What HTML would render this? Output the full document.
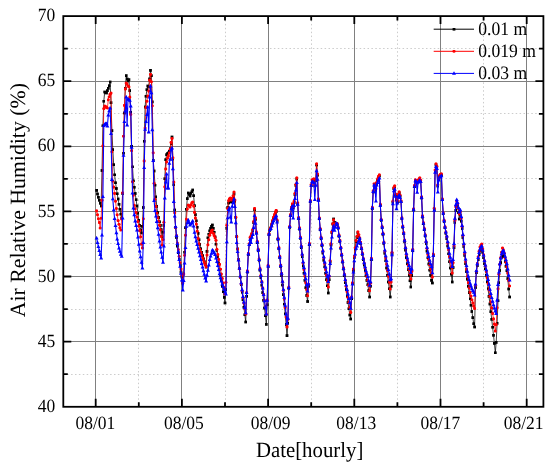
<!DOCTYPE html>
<html lang="en"><head><meta charset="utf-8"><title>Air Relative Humidity</title>
<style>html,body{margin:0;padding:0;background:#fff;overflow:hidden}svg{display:block}</style></head>
<body>
<svg width="550" height="466" viewBox="0 0 550 466" style="display:block">
<defs><marker id="mk" markerWidth="3.2" markerHeight="3.2" refX="1.6" refY="1.6" markerUnits="userSpaceOnUse"><rect x="0.2" y="0.2" width="2.8" height="2.8" fill="#000"/></marker><marker id="mr" markerWidth="3.6" markerHeight="3.6" refX="1.8" refY="1.8" markerUnits="userSpaceOnUse"><circle cx="1.8" cy="1.8" r="1.55" fill="#f00"/></marker><marker id="mu" markerWidth="4.4" markerHeight="4.4" refX="2.2" refY="2.5" markerUnits="userSpaceOnUse"><path d="M2.2 0.3 L4.2 3.9 L0.2 3.9 Z" fill="#00f"/></marker></defs>
<rect x="0" y="0" width="550" height="466" fill="#fff"/>
<path d="M63.3 374.5H543.4M63.3 309.5H543.4M63.3 243.5H543.4M63.3 178.5H543.4M63.3 113.5H543.4M63.3 48.5H543.4M138.5 16.1V406.8M225.5 16.1V406.8M311.5 16.1V406.8M397.5 16.1V406.8M483.5 16.1V406.8" stroke="#cccccc" stroke-width="1" stroke-dasharray="1.5 2.4" fill="none"/>
<path d="M63.3 341.5H543.4M63.3 276.5H543.4M63.3 211.5H543.4M63.3 146.5H543.4M63.3 81.5H543.4M95.5 16.1V406.8M181.5 16.1V406.8M268.5 16.1V406.8M354.5 16.1V406.8M440.5 16.1V406.8M526.5 16.1V406.8" stroke="#808080" stroke-width="1" fill="none"/>
<polyline points="96.6,190.4 97.5,194.0 98.4,197.3 99.3,200.3 100.2,203.3 101.1,206.0 102.0,170.5 102.9,125.8 103.8,101.2 104.7,92.0 105.6,92.4 106.5,93.0 107.4,90.6 108.3,88.3 109.2,85.7 110.1,82.0 111.0,102.7 111.9,130.6 112.8,149.6 113.7,164.7 114.6,174.9 115.5,182.8 116.4,188.5 117.2,193.8 118.1,199.0 119.0,204.3 119.9,209.2 120.8,214.1 121.7,218.0 122.6,193.4 123.5,153.2 124.4,113.0 125.3,88.4 126.2,75.6 127.1,78.9 128.0,81.0 128.9,79.6 129.8,90.6 130.7,112.4 131.6,146.4 132.5,166.9 133.4,180.9 134.3,187.2 135.2,193.5 136.1,199.7 137.0,206.0 137.9,213.2 138.8,220.4 139.7,225.5 140.6,230.0 141.5,233.0 142.4,226.3 143.3,207.5 144.2,141.2 145.1,107.0 146.0,96.2 146.9,89.7 147.8,86.0 148.7,87.0 149.6,78.9 150.5,70.4 151.4,75.7 152.3,101.9 153.2,160.2 154.1,171.0 155.0,185.1 155.9,196.9 156.8,206.4 157.7,212.6 158.6,217.5 159.5,221.8 160.4,225.4 161.2,229.6 162.1,237.0 163.0,232.2 163.9,225.4 164.8,178.8 165.7,159.7 166.6,154.7 167.5,153.6 168.4,152.9 169.3,151.3 170.2,148.7 171.1,143.6 172.0,137.0 172.9,159.0 173.8,184.8 174.7,210.0 175.6,227.4 176.5,237.5 177.4,246.1 178.3,252.8 179.2,259.4 180.1,265.7 181.0,272.0 181.9,277.0 182.8,283.0 183.7,274.0 184.6,252.2 185.5,227.7 186.4,209.2 187.3,198.6 188.2,193.0 189.1,194.3 190.0,196.0 190.9,193.4 191.8,191.8 192.7,190.0 193.6,195.7 194.5,205.7 195.4,214.6 196.3,220.9 197.2,227.2 198.1,233.4 199.0,239.7 199.9,244.3 200.8,248.8 201.7,252.4 202.6,255.6 203.4,258.8 204.3,261.7 205.2,264.6 206.1,267.0 207.0,251.4 207.9,237.9 208.8,234.1 209.7,230.9 210.6,228.4 211.5,226.2 212.4,225.0 213.3,228.3 214.2,232.1 215.1,237.0 216.0,244.1 216.9,250.4 217.8,256.7 218.7,263.0 219.6,269.3 220.5,275.2 221.4,280.7 222.3,286.3 223.2,291.9 224.1,297.4 225.0,303.0 225.9,289.5 226.8,228.4 227.7,207.5 228.6,203.0 229.5,201.7 230.4,201.0 231.3,202.0 232.2,200.3 233.1,197.8 234.0,194.0 234.9,201.2 235.8,217.3 236.7,236.6 237.6,249.0 238.5,259.7 239.4,268.7 240.3,277.2 241.2,284.7 242.1,292.2 243.0,299.7 243.9,307.2 244.8,314.8 245.7,322.0 246.6,296.3 247.4,272.1 248.3,254.6 249.2,244.9 250.1,238.7 251.0,237.1 251.9,234.6 252.8,230.7 253.7,222.7 254.6,209.6 255.5,219.3 256.4,233.1 257.3,242.6 258.2,250.5 259.1,260.3 260.0,270.2 260.9,277.6 261.8,285.1 262.7,292.6 263.6,300.3 264.5,308.0 265.4,315.8 266.3,324.4 267.2,304.8 268.1,266.7 269.0,234.8 269.9,230.4 270.8,228.4 271.7,225.0 272.6,221.4 273.5,218.4 274.4,215.8 275.3,213.3 276.2,211.6 277.1,221.2 278.0,239.4 278.9,248.8 279.8,257.7 280.7,266.7 281.6,275.7 282.5,285.0 283.4,294.6 284.3,304.1 285.2,313.9 286.1,324.5 287.0,335.6 287.9,323.1 288.8,288.3 289.7,227.4 290.5,215.8 291.4,208.4 292.3,205.0 293.2,208.0 294.1,202.6 295.0,194.7 295.9,185.4 296.8,179.0 297.7,204.0 298.6,218.7 299.5,229.1 300.4,238.3 301.3,247.6 302.2,256.9 303.1,266.0 304.0,273.1 304.9,280.3 305.8,287.7 306.7,295.5 307.6,301.5 308.5,286.3 309.4,244.7 310.3,201.7 311.2,185.8 312.1,180.9 313.0,180.4 313.9,180.0 314.8,186.0 315.7,180.5 316.6,165.0 317.5,175.2 318.4,200.1 319.3,218.9 320.2,229.8 321.1,238.6 322.0,245.8 322.9,253.0 323.8,260.2 324.7,266.8 325.6,273.3 326.5,279.7 327.4,285.9 328.3,293.0 329.2,279.7 330.1,262.0 331.0,245.0 331.9,232.8 332.8,224.0 333.6,219.0 334.5,222.4 335.4,224.0 336.3,224.0 337.2,224.7 338.1,228.2 339.0,236.2 339.9,241.6 340.8,248.4 341.7,255.3 342.6,262.1 343.5,269.0 344.4,275.9 345.3,282.8 346.2,289.6 347.1,296.0 348.0,302.5 348.9,308.8 349.8,315.0 350.7,319.0 351.6,298.6 352.5,283.9 353.4,270.3 354.3,257.4 355.2,249.0 356.1,241.6 357.0,237.5 357.9,233.0 358.8,235.8 359.7,238.9 360.6,243.5 361.5,248.9 362.4,254.3 363.3,259.7 364.2,265.1 365.1,270.4 366.0,275.8 366.9,280.4 367.8,284.8 368.7,290.6 369.6,297.0 370.5,286.2 371.4,259.6 372.3,208.6 373.2,192.1 374.1,185.0 375.0,187.3 375.9,190.0 376.7,183.4 377.6,180.1 378.5,177.4 379.4,176.0 380.3,205.3 381.2,220.4 382.1,227.8 383.0,234.4 383.9,243.8 384.8,253.2 385.7,260.8 386.6,268.0 387.5,275.2 388.4,282.0 389.3,288.8 390.2,297.0 391.1,286.3 392.0,253.7 392.9,202.2 393.8,188.8 394.7,187.0 395.6,195.3 396.5,200.0 397.4,202.0 398.3,195.4 399.2,193.0 400.1,196.2 401.0,201.9 401.9,218.9 402.8,227.3 403.7,233.8 404.6,241.5 405.5,250.1 406.4,257.6 407.3,263.7 408.2,269.8 409.1,275.4 410.0,280.8 410.9,287.0 411.8,275.5 412.7,250.7 413.6,210.0 414.5,186.7 415.4,181.0 416.3,181.9 417.2,183.0 418.1,181.5 418.9,180.3 419.8,179.0 420.7,181.2 421.6,198.0 422.5,217.1 423.4,223.8 424.3,229.7 425.2,236.0 426.1,243.5 427.0,251.1 427.9,257.9 428.8,264.0 429.7,270.1 430.6,275.4 431.5,280.4 432.4,283.0 433.3,255.3 434.2,209.6 435.1,171.2 436.0,165.0 436.9,167.7 437.8,186.0 438.7,179.7 439.6,176.4 440.5,175.5 441.4,175.0 442.3,199.9 443.2,213.9 444.1,221.5 445.0,227.9 445.9,233.3 446.8,238.7 447.7,246.0 448.6,253.9 449.5,261.8 450.4,268.0 451.3,274.2 452.2,282.0 453.1,267.5 454.0,247.7 454.9,222.4 455.8,210.4 456.7,206.8 457.6,205.0 458.5,212.7 459.4,219.0 460.3,215.0 461.2,221.2 462.1,228.5 462.9,237.5 463.8,246.5 464.7,255.4 465.6,263.8 466.5,271.6 467.4,279.2 468.3,286.3 469.2,292.6 470.1,298.9 471.0,305.2 471.9,311.5 472.8,317.6 473.7,323.7 474.6,327.0 475.5,287.5 476.4,272.7 477.3,265.8 478.2,259.7 479.1,254.6 480.0,251.0 480.9,249.7 481.8,249.0 482.7,252.3 483.6,257.8 484.5,263.8 485.4,268.9 486.3,275.2 487.2,281.9 488.1,288.8 489.0,296.4 489.9,304.0 490.8,311.7 491.7,319.3 492.6,327.2 493.5,335.3 494.4,343.4 495.3,352.8 496.2,342.4 497.1,323.3 498.0,300.8 498.9,282.7 499.8,270.5 500.7,262.6 501.6,257.3 502.5,254.6 503.4,253.0 504.3,256.5 505.1,261.5 506.0,266.2 506.9,270.7 507.8,278.6 508.7,289.0 509.6,297.0" fill="none" stroke="#000" stroke-width="0.75" stroke-linejoin="round" marker-start="url(#mk)" marker-mid="url(#mk)" marker-end="url(#mk)"/>
<polyline points="96.6,210.9 97.5,214.8 98.4,218.7 99.3,222.5 100.2,228.0 101.1,218.2 102.0,200.3 102.9,145.7 103.8,108.6 104.7,106.0 105.6,106.6 106.5,107.5 107.4,108.0 108.3,99.8 109.2,96.7 110.1,94.3 111.0,93.0 111.9,151.8 112.8,181.1 113.7,187.1 114.6,193.4 115.5,201.2 116.4,208.5 117.2,214.8 118.1,220.6 119.0,224.2 119.9,227.8 120.8,230.0 121.7,218.9 122.6,192.7 123.5,136.3 124.4,105.4 125.3,88.9 126.2,83.0 127.1,84.1 128.0,86.0 128.9,86.8 129.8,97.1 130.7,114.4 131.6,150.6 132.5,181.7 133.4,195.2 134.3,205.2 135.2,208.8 136.1,212.5 137.0,217.0 137.9,221.5 138.8,226.0 139.7,230.5 140.6,236.8 141.5,244.0 142.4,248.0 143.3,218.7 144.2,160.9 145.1,128.0 146.0,107.4 146.9,101.3 147.8,96.1 148.7,91.1 149.6,80.3 150.5,74.4 151.4,81.8 152.3,105.7 153.2,152.8 154.1,183.2 155.0,199.3 155.9,206.5 156.8,213.2 157.7,217.6 158.6,221.2 159.5,225.3 160.4,229.8 161.2,236.4 162.1,245.0 163.0,239.6 163.9,222.2 164.8,186.7 165.7,168.9 166.6,161.9 167.5,158.3 168.4,155.9 169.3,153.0 170.2,149.2 171.1,142.4 172.0,138.5 172.9,157.7 173.8,182.0 174.7,212.8 175.6,227.5 176.5,235.6 177.4,243.0 178.3,249.6 179.2,256.2 180.1,262.7 181.0,269.0 181.9,275.3 182.8,283.0 183.7,274.0 184.6,255.2 185.5,235.2 186.4,219.2 187.3,209.0 188.2,205.0 189.1,205.9 190.0,207.0 190.9,204.8 191.8,202.9 192.7,202.0 193.6,206.1 194.5,212.4 195.4,218.1 196.3,224.1 197.2,231.3 198.1,238.4 199.0,243.8 199.9,249.2 200.8,252.3 201.7,255.0 202.6,257.7 203.4,260.2 204.3,262.6 205.2,265.0 206.1,267.0 207.0,255.0 207.9,244.7 208.8,239.8 209.7,235.3 210.6,232.7 211.5,230.9 212.4,230.0 213.3,233.3 214.2,235.6 215.1,237.8 216.0,240.2 216.9,249.2 217.8,254.5 218.7,259.4 219.6,264.4 220.5,269.3 221.4,274.0 222.3,278.5 223.2,283.0 224.1,287.5 225.0,294.0 225.9,282.2 226.8,225.3 227.7,208.6 228.6,200.6 229.5,198.7 230.4,198.0 231.3,200.0 232.2,198.3 233.1,195.8 234.0,192.0 234.9,200.0 235.8,217.3 236.7,236.6 237.6,249.0 238.5,259.7 239.4,268.7 240.3,277.0 241.2,283.9 242.1,290.8 243.0,297.7 243.9,303.1 244.8,308.5 245.7,313.9 246.6,292.6 247.4,270.9 248.3,253.4 249.2,243.7 250.1,237.5 251.0,235.9 251.9,233.4 252.8,229.5 253.7,221.5 254.6,208.4 255.5,218.1 256.4,231.9 257.3,241.4 258.2,249.3 259.1,259.1 260.0,268.6 260.9,275.2 261.8,281.6 262.7,287.9 263.6,294.2 264.5,300.6 265.4,306.9 266.3,314.0 267.2,300.0 268.1,265.5 269.0,233.6 269.9,229.2 270.8,227.2 271.7,223.8 272.6,220.2 273.5,217.2 274.4,214.6 275.3,212.1 276.2,210.4 277.1,220.0 278.0,238.2 278.9,247.6 279.8,256.5 280.7,265.1 281.6,273.4 282.5,281.8 283.4,290.4 284.3,298.9 285.2,307.6 286.1,317.0 287.0,326.9 287.9,319.3 288.8,287.1 289.7,226.2 290.5,214.6 291.4,207.2 292.3,203.8 293.2,206.8 294.1,201.4 295.0,193.5 295.9,184.2 296.8,177.8 297.7,202.8 298.6,217.5 299.5,227.9 300.4,237.1 301.3,246.0 302.2,254.8 303.1,263.1 304.0,269.6 304.9,276.0 305.8,282.6 306.7,289.5 307.6,295.7 308.5,284.3 309.4,243.5 310.3,200.5 311.2,184.6 312.1,179.7 313.0,179.2 313.9,178.8 314.8,184.8 315.7,179.3 316.6,163.8 317.5,174.0 318.4,198.9 319.3,217.7 320.2,228.6 321.1,237.4 322.0,244.4 322.9,251.1 323.8,257.7 324.7,263.8 325.6,269.5 326.5,275.3 327.4,280.6 328.3,286.9 329.2,276.4 330.1,260.8 331.0,243.8 331.9,231.6 332.8,223.7 333.6,219.8 334.5,224.1 335.4,224.7 336.3,223.6 337.2,223.5 338.1,227.0 339.0,235.0 339.9,240.4 340.8,247.2 341.7,254.1 342.6,260.9 343.5,267.8 344.4,274.1 345.3,280.3 346.2,286.2 347.1,291.8 348.0,297.2 348.9,302.5 349.8,307.5 350.7,312.5 351.6,296.9 352.5,282.7 353.4,269.1 354.3,256.2 355.2,247.8 356.1,240.4 357.0,236.3 357.9,231.8 358.8,234.6 359.7,237.7 360.6,242.3 361.5,247.7 362.4,253.1 363.3,258.2 364.2,263.1 365.1,268.0 366.0,272.7 366.9,276.5 367.8,280.3 368.7,285.2 369.6,290.8 370.5,283.3 371.4,258.4 372.3,207.4 373.2,190.9 374.1,183.8 375.0,186.1 375.9,188.8 376.7,182.2 377.6,178.9 378.5,176.2 379.4,174.8 380.3,204.1 381.2,219.2 382.1,226.6 383.0,233.2 383.9,242.3 384.8,251.1 385.7,257.9 386.6,264.2 387.5,270.5 388.4,276.2 389.3,282.0 390.2,289.0 391.1,281.9 392.0,252.5 392.9,201.0 393.8,187.6 394.7,185.8 395.6,194.1 396.5,198.8 397.4,200.8 398.3,194.2 399.2,191.8 400.1,195.0 401.0,200.7 401.9,217.7 402.8,226.1 403.7,232.6 404.6,240.1 405.5,247.9 406.4,254.7 407.3,259.9 408.2,265.0 409.1,269.6 410.0,273.9 410.9,279.0 411.8,271.4 412.7,249.5 413.6,208.8 414.5,185.5 415.4,179.8 416.3,180.7 417.2,181.8 418.1,180.3 418.9,179.1 419.8,177.8 420.7,180.0 421.6,196.8 422.5,215.9 423.4,222.6 424.3,228.5 425.2,234.7 426.1,241.7 427.0,248.5 427.9,254.5 428.8,259.6 429.7,264.7 430.6,269.0 431.5,272.8 432.4,277.1 433.3,254.1 434.2,208.4 435.1,170.0 436.0,163.8 436.9,166.5 437.8,184.8 438.7,178.5 439.6,175.2 440.5,174.3 441.4,173.8 442.3,198.7 443.2,212.7 444.1,220.3 445.0,226.7 445.9,231.9 446.8,236.5 447.7,242.9 448.6,249.8 449.5,256.7 450.4,261.7 451.3,266.7 452.2,273.1 453.1,262.8 454.0,245.7 454.9,220.4 455.8,206.8 456.7,201.0 457.6,203.8 458.5,208.6 459.4,214.0 460.3,212.0 461.2,218.4 462.1,226.5 462.9,235.5 463.8,244.5 464.7,253.4 465.6,261.8 466.5,269.3 467.4,276.5 468.3,282.8 469.2,287.8 470.1,292.5 471.0,296.1 471.9,299.7 472.8,302.9 473.7,306.1 474.6,308.5 475.5,285.2 476.4,271.2 477.3,263.5 478.2,256.7 479.1,251.4 480.0,247.0 480.9,245.1 481.8,244.0 482.7,248.9 483.6,254.8 484.5,260.8 485.4,265.9 486.3,271.6 487.2,277.6 488.1,283.6 489.0,289.9 489.9,296.2 490.8,302.1 491.7,307.9 492.6,313.5 493.5,318.9 494.4,324.1 495.3,331.0 496.2,324.6 497.1,307.8 498.0,288.7 498.9,274.2 499.8,264.4 500.7,257.6 501.6,252.3 502.5,248.0 503.4,249.9 504.3,253.3 505.1,257.7 506.0,262.2 506.9,266.7 507.8,272.9 508.7,280.4 509.6,286.0" fill="none" stroke="#f00" stroke-width="0.75" stroke-linejoin="round" marker-start="url(#mr)" marker-mid="url(#mr)" marker-end="url(#mr)"/>
<polyline points="96.6,238.0 97.5,242.5 98.4,246.7 99.3,250.6 100.2,254.5 101.1,258.0 102.0,235.1 102.9,196.6 103.8,125.7 104.7,124.5 105.6,123.8 106.5,123.6 107.4,126.0 108.3,115.1 109.2,110.9 110.1,108.0 111.0,133.5 111.9,179.5 112.8,198.9 113.7,209.9 114.6,218.5 115.5,225.6 116.4,232.8 117.2,239.2 118.1,243.7 119.0,248.2 119.9,251.3 120.8,254.4 121.7,256.4 122.6,218.1 123.5,155.4 124.4,121.6 125.3,111.1 126.2,97.0 127.1,125.0 128.0,99.0 128.9,99.7 129.8,100.4 130.7,106.0 131.6,147.3 132.5,193.0 133.4,208.1 134.3,214.8 135.2,221.0 136.1,225.5 137.0,230.0 137.9,237.2 138.8,244.4 139.7,251.2 140.6,256.8 141.5,262.4 142.4,268.0 143.3,242.5 144.2,167.7 145.1,129.3 146.0,121.6 146.9,114.7 147.8,107.0 148.7,132.0 149.6,97.0 150.5,86.0 151.4,92.9 152.3,129.8 153.2,160.5 154.1,200.7 155.0,210.6 155.9,216.2 156.8,221.5 157.7,227.8 158.6,234.4 159.5,241.0 160.4,247.0 161.2,252.2 162.1,257.4 163.0,262.4 163.9,246.0 164.8,198.0 165.7,182.1 166.6,174.0 167.5,188.0 168.4,188.0 169.3,163.3 170.2,159.3 171.1,149.8 172.0,148.0 172.9,168.8 173.8,201.5 174.7,216.2 175.6,226.6 176.5,235.6 177.4,243.7 178.3,251.8 179.2,259.6 180.1,266.4 181.0,273.3 181.9,280.1 182.8,290.0 183.7,280.7 184.6,263.1 185.5,247.6 186.4,226.4 187.3,222.8 188.2,220.0 189.1,222.7 190.0,225.0 190.9,223.9 191.8,222.7 192.7,221.0 193.6,226.2 194.5,232.4 195.4,236.8 196.3,241.1 197.2,244.7 198.1,248.3 199.0,252.1 199.9,255.9 200.8,259.7 201.7,263.5 202.6,267.2 203.4,270.8 204.3,274.4 205.2,278.0 206.1,281.0 207.0,275.3 207.9,270.3 208.8,265.0 209.7,259.6 210.6,256.1 211.5,253.3 212.4,250.0 213.3,251.2 214.2,252.7 215.1,254.5 216.0,258.1 216.9,261.7 217.8,265.7 218.7,269.7 219.6,273.8 220.5,277.8 221.4,281.2 222.3,284.0 223.2,286.7 224.1,289.4 225.0,292.2 225.9,294.0 226.8,241.9 227.7,217.9 228.6,209.5 229.5,208.0 230.4,217.1 231.3,222.0 232.2,206.4 233.1,202.8 234.0,199.0 234.9,206.6 235.8,222.8 236.7,242.7 237.6,251.7 238.5,260.0 239.4,268.2 240.3,276.0 241.2,282.9 242.1,289.8 243.0,296.7 243.9,302.1 244.8,307.5 245.7,312.9 246.6,292.7 247.4,271.4 248.3,253.9 249.2,244.5 250.1,239.4 251.0,242.7 251.9,237.3 252.8,234.5 253.7,227.5 254.6,215.5 255.5,223.3 256.4,233.2 257.3,241.9 258.2,249.8 259.1,259.6 260.0,269.0 260.9,275.6 261.8,281.9 262.7,288.2 263.6,294.5 264.5,300.8 265.4,307.0 266.3,314.0 267.2,300.3 268.1,266.0 269.0,234.1 269.9,229.7 270.8,228.5 271.7,225.9 272.6,223.0 273.5,220.9 274.4,219.1 275.3,217.5 276.2,215.8 277.1,222.2 278.0,238.7 278.9,248.1 279.8,257.0 280.7,265.5 281.6,273.3 282.5,281.3 283.4,289.4 284.3,297.3 285.2,305.4 286.1,314.2 287.0,323.4 287.9,318.4 288.8,287.6 289.7,226.7 290.5,215.3 291.4,208.8 292.3,206.2 293.2,218.1 294.1,205.6 295.0,198.6 295.9,190.2 296.8,182.7 297.7,204.3 298.6,218.0 299.5,228.4 300.4,237.6 301.3,246.1 302.2,254.2 303.1,261.9 304.0,267.6 304.9,273.1 305.8,278.8 306.7,284.8 307.6,291.1 308.5,283.9 309.4,244.0 310.3,201.0 311.2,185.3 312.1,181.5 313.0,182.0 313.9,182.7 314.8,199.7 315.7,185.3 316.6,170.8 317.5,179.4 318.4,200.3 319.3,218.2 320.2,229.1 321.1,237.9 322.0,244.7 322.9,250.8 323.8,256.8 324.7,262.0 325.6,267.0 326.5,271.8 327.4,276.3 328.3,281.6 329.2,275.4 330.1,263.6 331.0,248.0 331.9,237.2 332.8,229.6 333.6,226.0 334.5,230.4 335.4,227.0 336.3,223.3 337.2,224.0 338.1,227.5 339.0,235.5 339.9,240.9 340.8,247.7 341.7,254.6 342.6,261.4 343.5,268.3 344.4,274.1 345.3,279.7 346.2,284.9 347.1,289.6 348.0,294.2 348.9,298.6 349.8,302.7 350.7,308.4 351.6,297.0 352.5,284.2 353.4,272.1 354.3,260.9 355.2,254.2 356.1,248.4 357.0,246.0 357.9,243.1 358.8,240.6 359.7,238.2 360.6,242.8 361.5,248.2 362.4,253.6 363.3,258.4 364.2,262.8 365.1,266.9 366.0,270.9 366.9,273.9 367.8,276.7 368.7,280.8 369.6,285.4 370.5,281.8 371.4,258.9 372.3,207.9 373.2,191.5 374.1,185.0 375.0,187.9 375.9,201.2 376.7,185.2 377.6,182.5 378.5,180.4 379.4,178.2 380.3,205.3 381.2,219.7 382.1,227.1 383.0,233.7 383.9,242.4 384.8,250.2 385.7,255.8 386.6,260.7 387.5,265.4 388.4,269.6 389.3,274.1 390.2,279.8 391.1,278.8 392.0,254.8 392.9,203.8 393.8,190.9 394.7,189.3 395.6,196.3 396.5,208.8 397.4,203.2 398.3,197.1 399.2,195.1 400.1,197.5 401.0,201.6 401.9,218.2 402.8,226.6 403.7,233.1 404.6,240.3 405.5,247.5 406.4,253.4 407.3,257.8 408.2,261.9 409.1,265.5 410.0,268.7 410.9,272.6 411.8,269.1 412.7,250.0 413.6,209.3 414.5,186.2 415.4,180.8 416.3,182.0 417.2,192.4 418.1,182.1 418.9,181.3 419.8,180.2 420.7,181.6 421.6,197.3 422.5,216.4 423.4,223.1 424.3,229.0 425.2,235.1 426.1,241.4 427.0,247.4 427.9,252.4 428.8,256.5 429.7,260.4 430.6,263.7 431.5,266.5 432.4,272.9 433.3,255.7 434.2,210.3 435.1,172.3 436.0,166.6 436.9,168.5 437.8,192.2 438.7,180.2 439.6,177.2 440.5,176.6 441.4,175.8 442.3,199.6 443.2,213.2 444.1,220.8 445.0,227.2 445.9,232.1 446.8,236.1 447.7,241.7 448.6,247.7 449.5,253.4 450.4,257.4 451.3,261.2 452.2,266.5 453.1,259.7 454.0,243.7 454.9,218.4 455.8,204.8 456.7,199.6 457.6,202.6 458.5,207.5 459.4,212.0 460.3,210.0 461.2,216.5 462.1,225.5 462.9,234.5 463.8,243.5 464.7,251.7 465.6,259.1 466.5,265.5 467.4,271.3 468.3,276.3 469.2,279.9 470.1,283.4 471.0,286.1 471.9,288.8 472.8,290.6 473.7,292.4 474.6,295.0 475.5,284.1 476.4,270.7 477.3,263.8 478.2,257.7 479.1,252.6 480.0,249.0 480.9,247.1 481.8,246.0 482.7,250.1 483.6,255.2 484.5,260.5 485.4,265.0 486.3,269.8 487.2,274.6 488.1,279.5 489.0,284.4 489.9,289.4 490.8,293.5 491.7,297.6 492.6,301.3 493.5,304.9 494.4,308.2 495.3,311.1 496.2,313.5 497.1,300.0 498.0,284.5 498.9,272.2 499.8,263.8 500.7,258.0 501.6,253.8 502.5,251.3 503.4,250.4 504.3,252.9 505.1,256.3 506.0,259.9 506.9,263.8 507.8,269.1 508.7,275.3 509.6,280.0" fill="none" stroke="#00f" stroke-width="1.1" stroke-linejoin="round" marker-start="url(#mu)" marker-mid="url(#mu)" marker-end="url(#mu)"/>
<rect x="63.3" y="16.1" width="480.1" height="390.7" fill="none" stroke="#000" stroke-width="1.8"/>
<path d="M63.3 341.6h8M543.4 341.6h-8M63.3 276.5h8M543.4 276.5h-8M63.3 211.4h8M543.4 211.4h-8M63.3 146.3h8M543.4 146.3h-8M63.3 81.2h8M543.4 81.2h-8M63.3 374.1h4.5M543.4 374.1h-4.5M63.3 309.1h4.5M543.4 309.1h-4.5M63.3 243.9h4.5M543.4 243.9h-4.5M63.3 178.8h4.5M543.4 178.8h-4.5M63.3 113.8h4.5M543.4 113.8h-4.5M63.3 48.6h4.5M543.4 48.6h-4.5M95.7 406.8v-8M95.7 16.1v8M181.9 406.8v-8M181.9 16.1v8M268.1 406.8v-8M268.1 16.1v8M354.3 406.8v-8M354.3 16.1v8M440.5 406.8v-8M440.5 16.1v8M526.7 406.8v-8M526.7 16.1v8M138.8 406.8v-4.5M138.8 16.1v4.5M225.0 406.8v-4.5M225.0 16.1v4.5M311.2 406.8v-4.5M311.2 16.1v4.5M397.4 406.8v-4.5M397.4 16.1v4.5M483.6 406.8v-4.5M483.6 16.1v4.5" stroke="#000" stroke-width="1.8" fill="none"/>
<g font-family="'Liberation Serif', serif" fill="#000" text-rendering="geometricPrecision">
<text transform="translate(55.3,412.2) scale(1,1.070)" font-size="17.5" text-anchor="end">40</text>
<text transform="translate(55.3,347.0) scale(1,1.070)" font-size="17.5" text-anchor="end">45</text>
<text transform="translate(55.3,281.7) scale(1,1.070)" font-size="17.5" text-anchor="end">50</text>
<text transform="translate(55.3,216.5) scale(1,1.070)" font-size="17.5" text-anchor="end">55</text>
<text transform="translate(55.3,151.2) scale(1,1.070)" font-size="17.5" text-anchor="end">60</text>
<text transform="translate(55.3,85.9) scale(1,1.070)" font-size="17.5" text-anchor="end">65</text>
<text transform="translate(55.3,20.7) scale(1,1.070)" font-size="17.5" text-anchor="end">70</text>
<text transform="translate(95.4,429.4) scale(1,1.070)" font-size="17.5" text-anchor="middle">08/01</text>
<text transform="translate(183.9,429.4) scale(1,1.070)" font-size="17.5" text-anchor="middle">08/05</text>
<text transform="translate(270.6,429.4) scale(1,1.070)" font-size="17.5" text-anchor="middle">08/09</text>
<text transform="translate(356.3,429.4) scale(1,1.070)" font-size="17.5" text-anchor="middle">08/13</text>
<text transform="translate(440.4,429.4) scale(1,1.070)" font-size="17.5" text-anchor="middle">08/17</text>
<text transform="translate(523.6,429.4) scale(1,1.070)" font-size="17.5" text-anchor="middle">08/21</text>
<text transform="translate(309.6,456.6) scale(1,1.04)" font-size="20.8" text-anchor="middle">Date[hourly]</text>
<text transform="translate(25.3,200.2) rotate(-90)" font-size="21.8" text-anchor="middle">Air Relative Humidity (%)</text>
<polyline points="433.7,29.2 454,29.2 474,29.2" fill="none" stroke="#000" stroke-width="1" marker-mid="url(#mk)"/>
<text transform="translate(478.2,34.9) scale(1,1.08)" font-size="17.6">0.01 m</text>
<polyline points="433.7,51.3 454,51.3 474,51.3" fill="none" stroke="#f00" stroke-width="1" marker-mid="url(#mr)"/>
<text transform="translate(478.2,57.0) scale(1,1.08)" font-size="17.6">0.019 m</text>
<polyline points="433.7,73.4 454,73.4 474,73.4" fill="none" stroke="#00f" stroke-width="1" marker-mid="url(#mu)"/>
<text transform="translate(478.2,79.1) scale(1,1.08)" font-size="17.6">0.03 m</text>
</g>
</svg>
</body></html>
